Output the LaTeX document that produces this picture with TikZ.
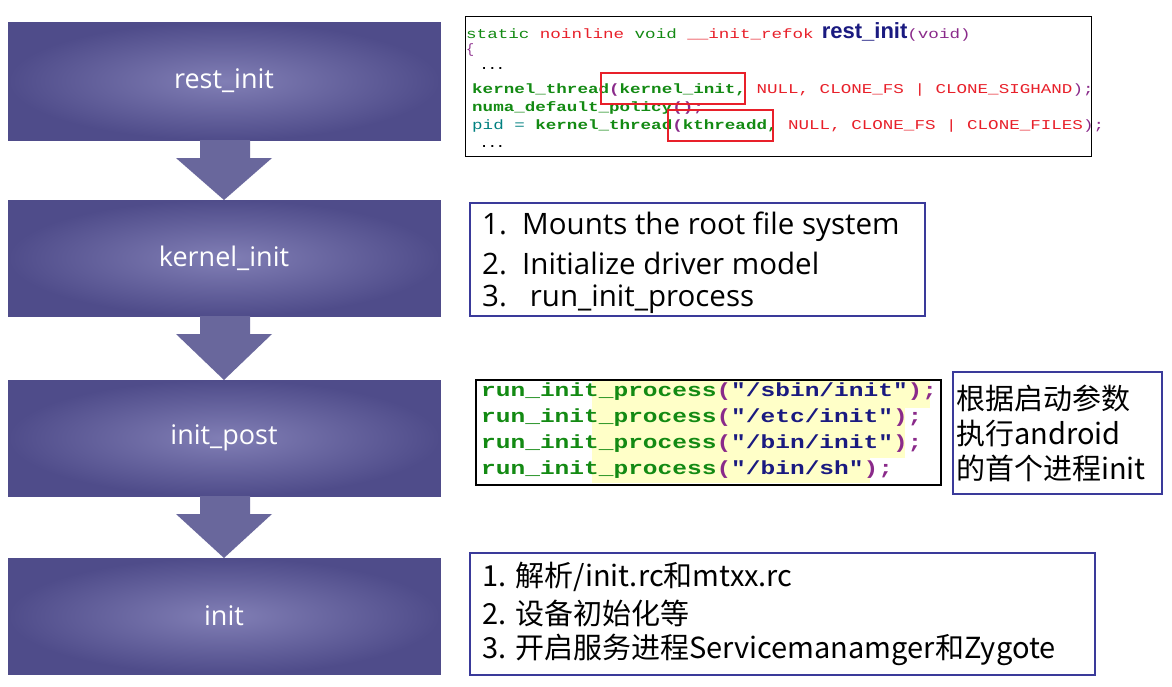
\documentclass[tikz,border=0pt]{standalone}
\usepackage{fontspec}
\usepackage{graphicx}
\setmainfont{Open Sans}
\newfontfamily\cjk{Noto Sans CJK SC}
\newfontfamily\cmono{Liberation Mono}
\usetikzlibrary{shadings}
\definecolor{pur}{HTML}{6B68A8}
\definecolor{purd}{HTML}{4F4C8A}
\definecolor{cg}{HTML}{138A13}
\definecolor{cr}{HTML}{E8202A}
\definecolor{cp}{HTML}{8A2A8A}
\definecolor{cn}{HTML}{1A1A80}
\definecolor{cb}{HTML}{3A3A9A}
\definecolor{hl}{HTML}{FFFFC8}
\begin{document}
\begin{tikzpicture}[x=1pt,y=-1pt,
  stepbox/.style={draw=purd,line width=1pt,inner color=pur!85!white,outer color=purd,text=white,font=\fontsize{27}{30}\selectfont},
  darr/.style={fill=purd!85,draw=none},
  infobox/.style={draw=cb,line width=1.2pt},
  redbox/.style={draw=cr,line width=2pt},
  cjkt/.style={font=\cjk\fontsize{29}{32}\selectfont,anchor=west,inner sep=0pt}]
\useasboundingbox (0,0) rectangle (1172,686);
\fill[white] (0,0) rectangle (1172,686);
% left boxes
\path[stepbox] (8,22) rectangle (440,140) node[midway] (s1) {rest\_init};
\path[stepbox] (8,200) rectangle (440,316) node[midway] (s2) {kernel\_init};
\path[stepbox] (8,380) rectangle (440,496) node[midway] (s3) {init\_post};
\path[stepbox] (8,558) rectangle (440,674) node[midway] (s4) {init};
\foreach \t/\b in {140/200,316/380,496/558}{
  \fill[darr] (200,\t) -- (250,\t) -- (250,\t+18) -- (272,\t+18) -- (224,\b) -- (176,\t+18) -- (200,\t+18) -- cycle;
}
% code box 1
\draw[line width=1pt] (465,16) rectangle (1091,156);
\begin{scope}[every node/.style={anchor=west,inner sep=0pt,font=\cmono\fontsize{13.5}{15}\selectfont}]
\node (c1) at (466,32) {\scalebox{1.3}[1]{\textcolor{cg}{static} \textcolor{cr}{noinline} \textcolor{cg}{void} \textcolor{cr}{\_\_init\_refok}}~{\fontspec{Liberation Sans}\bfseries\fontsize{22}{24}\selectfont\textcolor{cn}{rest\_init}}\scalebox{1.3}[1]{\textcolor{cp}{(void)}}};
\node (c2) at (466,50) {\textcolor{cp}{\{}};
\node (c3) at (480,68) {\bfseries ...};
\node (c4) at (472,90) {\scalebox{1.3}[1]{\bfseries\textcolor{cg}{kernel\_thread}\textcolor{cp}{(}\textcolor{cg}{kernel\_init,} \mdseries\textcolor{cr}{NULL, CLONE\_FS | CLONE\_SIGHAND}\textcolor{cp}{);}}};
\node (c5) at (472,108) {\scalebox{1.3}[1]{\bfseries\textcolor{cg}{numa\_default\_policy}\textcolor{cp}{();}}};
\node (c6) at (472,126) {\scalebox{1.3}[1]{\textcolor{teal}{pid =} \bfseries\textcolor{cg}{kernel\_thread}\textcolor{cp}{(}\textcolor{cg}{kthreadd,} \mdseries\textcolor{cr}{NULL, CLONE\_FS | CLONE\_FILES}\textcolor{cp}{);}}};
\node (c7) at (480,146) {\bfseries ...};
\end{scope}
\draw[redbox] (601,73) rectangle (745,104);
\draw[redbox] (668,110) rectangle (773,141);
% box 2
\draw[infobox] (470,203) rectangle (925,316);
\begin{scope}[every node/.style={anchor=west,inner sep=0pt,font=\fontsize{29.5}{32}\selectfont}]
\node (b1) at (482,227) {1.\ \ Mounts the root file system};
\node (b2) at (482,263) {2.\ \ Initialize driver model};
\node (b3) at (482,299) {3.\ \ \ run\_init\_process};
\end{scope}
% code box 3
\fill[hl] (592,381) rectangle (930,408);
\fill[hl] (592,408) rectangle (905,432);
\fill[hl] (592,432) rectangle (905,458);
\fill[hl] (592,458) rectangle (870,483);
\draw[line width=1.5pt] (476,380) rectangle (941,485);
\begin{scope}[every node/.style={anchor=west,inner sep=0pt,font=\cmono\bfseries\fontsize{19}{20}\selectfont}]
\node (p1) at (481,392) {\scalebox{1.29}[1]{\textcolor{cg}{run\_init\_process}\textcolor{cp}{(}\textcolor{cn}{"/sbin/init"}\textcolor{cp}{);}}};
\node (p2) at (481,418) {\scalebox{1.29}[1]{\textcolor{cg}{run\_init\_process}\textcolor{cp}{(}\textcolor{cn}{"/etc/init"}\textcolor{cp}{);}}};
\node (p3) at (481,444) {\scalebox{1.29}[1]{\textcolor{cg}{run\_init\_process}\textcolor{cp}{(}\textcolor{cn}{"/bin/init"}\textcolor{cp}{);}}};
\node (p4) at (481,470) {\scalebox{1.29}[1]{\textcolor{cg}{run\_init\_process}\textcolor{cp}{(}\textcolor{cn}{"/bin/sh"}\textcolor{cp}{);}}};
\end{scope}
% box 4
\draw[infobox] (953,372) rectangle (1162,494);
\node[cjkt] (d1) at (956,398) {根据启动参数};
\node[cjkt] (d2) at (956,433) {执行android};
\node[cjkt] (d3) at (956,468) {的首个进程init};
% box 5
\draw[infobox] (470,553) rectangle (1095,675);
\node[cjkt,font=\cjk\fontsize{29}{32}\selectfont] (e1) at (482,577) {1. 解析/init.rc和mtxx.rc};
\node[cjkt,font=\cjk\fontsize{29}{32}\selectfont] (e2) at (482,613) {2. 设备初始化等};
\node[cjkt,font=\cjk\fontsize{29}{32}\selectfont] (e3) at (482,650) {3. 开启服务进程Servicemanamger和Zygote};
\end{tikzpicture}
\end{document}
